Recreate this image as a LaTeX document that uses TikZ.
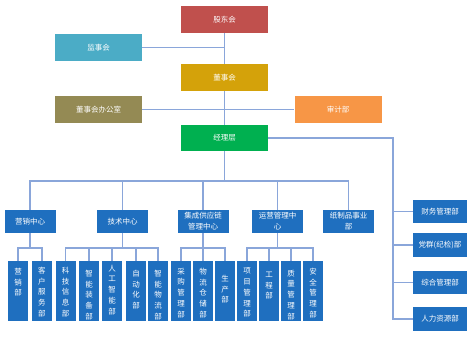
\documentclass[tikz,border=0pt]{standalone}
\usepackage{fontspec}
\newfontfamily\cjk{Noto Sans CJK SC}
\definecolor{cred}{HTML}{C0504D}
\definecolor{ccyan}{HTML}{4BACC6}
\definecolor{cgold}{HTML}{D4A20A}
\definecolor{colive}{HTML}{948A54}
\definecolor{corange}{HTML}{F79646}
\definecolor{cgreen}{HTML}{00B050}
\definecolor{cblue}{HTML}{1F6FBF}
\definecolor{cline}{HTML}{8AA6DA}
\newcommand{\vtext}[2][3]{\parbox[c][56pt][t]{10pt}{\vspace*{#1pt}\centering\baselineskip=10.7pt #2}}
\tikzset{
  box/.style={rectangle, inner sep=0pt, text=white, font=\cjk\fontsize{7.5}{11}\selectfont, align=center},
  topbox/.style={box, minimum width=87pt, minimum height=27pt},
  midbox/.style={box, fill=cblue, minimum width=51pt, minimum height=23pt},
  leafbox/.style={box, fill=cblue, minimum width=20pt, minimum height=60pt},
  sidebox/.style={box, fill=cblue, minimum width=54pt, minimum height=23.5pt},
  conn/.style={draw=cline, line width=1.1pt}
}
\begin{document}
\begin{tikzpicture}[x=1pt,y=-1pt]
\useasboundingbox (0,0) rectangle (474,338);
% top level
\node[topbox, fill=cred]    (gdh) at (224.5,19.5) {股东会};
\node[topbox, fill=ccyan]   (jsh) at (98.5,47.5) {监事会};
\node[topbox, fill=cgold]   (dsh) at (224.5,77.5) {董事会};
\node[topbox, fill=colive]  (dsb) at (98.5,109.5) {董事会办公室};
\node[topbox, fill=corange] (sjb) at (338,109.5) {审计部};
\node[topbox, fill=cgreen, minimum height=26pt] (jlc) at (224.5,138) {经理层};
% level 2
\node[midbox] (yxzx) at (30,221.5) {营销中心};
\node[midbox] (jszx) at (122.5,221.5) {技术中心};
\node[midbox] (jcgl) at (203,221.5) {集成供应链\\管理中心};
\node[midbox] (yygl) at (277.5,221.5) {运营管理中\\心};
\node[midbox] (zzp)  at (348.5,221.5) {纸制品事业\\部};
% right side
\node[sidebox] (cw) at (440,211.5) {财务管理部};
\node[sidebox] (dq) at (440,245) {党群(纪检)部};
\node[sidebox] (zh) at (440,282.5) {综合管理部};
\node[sidebox] (rl) at (440,319) {人力资源部};
% leaves
\node[leafbox] (l1)  at (18,291)  {\vtext[5]{营\\销\\部}};
\node[leafbox] (l2)  at (42,291)  {\vtext[4]{客\\户\\服\\务\\部}};
\node[leafbox] (l3)  at (65.5,291) {\vtext[4]{科\\技\\信\\息\\部}};
\node[leafbox] (l4)  at (89,291)  {\vtext[7]{智\\能\\装\\备\\部}};
\node[leafbox] (l5)  at (112,291) {\vtext[2]{人\\工\\智\\能\\部}};
\node[leafbox] (l6)  at (136,291) {\vtext[7]{自\\动\\化\\部}};
\node[leafbox] (l7)  at (158,291) {\vtext[7]{智\\能\\物\\流\\部}};
\node[leafbox] (l8)  at (181,291) {\vtext[5]{采\\购\\管\\理\\部}};
\node[leafbox] (l9)  at (203,291) {\vtext[5]{物\\流\\仓\\储\\部}};
\node[leafbox] (l10) at (225,291) {\vtext[12]{生\\产\\部}};
\node[leafbox] (l11) at (247,291) {\vtext[5]{项\\目\\管\\理\\部}};
\node[leafbox] (l12) at (269,291) {\vtext[9]{工\\程\\部}};
\node[leafbox] (l13) at (291,291) {\vtext[7]{质\\量\\管\\理\\部}};
\node[leafbox] (l14) at (313,291) {\vtext[5]{安\\全\\管\\理\\部}};
% buses
\coordinate (bus) at (224.5,181);
\coordinate (rbus) at (393,138);
% connectors top
\draw[conn] (gdh.south) -- (dsh.north);
\draw[conn] (jsh.east) -- (jsh.east -| gdh.south);
\draw[conn] (dsh.south) -- (jlc.north);
\draw[conn] (dsb.east) -- (sjb.west);
\draw[conn] (jlc.south) -- (bus);
\draw[conn] (yxzx.north) |- (bus) -| (zzp.north);
\draw[conn] (jszx.north) -- (jszx.north |- bus);
\draw[conn] (jcgl.north) -- (jcgl.north |- bus);
\draw[conn] (yygl.north) -- (yygl.north |- bus);
% right
\draw[conn] (jlc.east) -- (rbus) |- (rl.west);
\draw[conn] (cw.west) -- (cw.west -| rbus);
\draw[conn] (dq.west) -- (dq.west -| rbus);
\draw[conn] (zh.west) -- (zh.west -| rbus);
% sub buses
\coordinate (sb) at (0,248);
\draw[conn] (yxzx.south) -- (yxzx.south |- sb);
\draw[conn] (l1.north) |- (yxzx.south |- sb) -| (l2.north);
\draw[conn] (jszx.south) -- (jszx.south |- sb);
\draw[conn] (l3.north) |- (jszx.south |- sb) -| (l7.north);
\draw[conn] (l4.north) -- (l4.north |- sb);
\draw[conn] (l5.north) -- (l5.north |- sb);
\draw[conn] (l6.north) -- (l6.north |- sb);
\draw[conn] (jcgl.south) -- (jcgl.south |- sb);
\draw[conn] (l8.north) |- (jcgl.south |- sb) -| (l10.north);
\draw[conn] (l9.north) -- (l9.north |- sb);
\draw[conn] (yygl.south) -- (yygl.south |- sb);
\draw[conn] (l11.north) |- (yygl.south |- sb) -| (l14.north);
\draw[conn] (l12.north) -- (l12.north |- sb);
\draw[conn] (l13.north) -- (l13.north |- sb);
\end{tikzpicture}
\end{document}
